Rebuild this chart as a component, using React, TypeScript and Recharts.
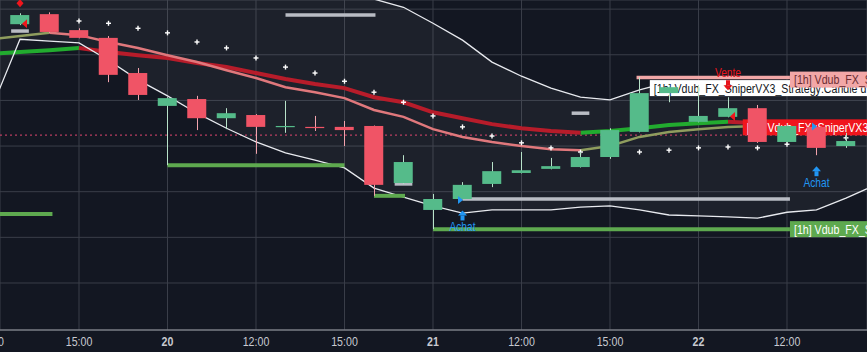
import React from 'react';
import {
  ComposedChart,
  Area,
  Bar,
  Line,
  Scatter,
  XAxis,
  YAxis,
  CartesianGrid,
  ReferenceLine,
  ReferenceDot,
} from 'recharts';

const FONT = '"Liberation Sans", Arial, sans-serif';
const SQUEEZE = 0.85; // the screenshot text is narrower than plain Arial

const BG = '#131722';
const GRID = '#3a3e49';
const UP = '#55bb8a';
const DOWN = '#f05466';
const UP_WICK = '#b8e2c9';
const DOWN_WICK = '#f3a3ad';

// 1h candles, bar 0..28
const OPEN = [1856.7, 1858.9, 1855.4, 1853.7, 1846.0, 1838.8, 1840.3, 1836.1, 1836.8, 1834.3, 1834.2, 1834.2, 1834.4, 1821.9, 1816.0, 1818.4, 1821.7, 1824.1, 1825.0, 1825.4, 1827.6, 1833.1, 1841.6, 1835.3, 1836.4, 1838.3, 1830.9, 1834.2, 1830.0];
const HIGH = [1859.1, 1859.3, 1855.8, 1854.1, 1847.1, 1840.7, 1841.0, 1838.3, 1837.0, 1839.9, 1836.6, 1835.5, 1834.5, 1828.0, 1819.5, 1822.1, 1826.5, 1828.7, 1827.4, 1828.7, 1833.9, 1845.1, 1843.4, 1843.4, 1840.7, 1839.0, 1834.6, 1834.6, 1832.9];
const LOW = [1856.5, 1854.8, 1853.6, 1844.0, 1840.1, 1825.8, 1833.5, 1833.7, 1828.3, 1832.9, 1833.3, 1830.0, 1819.1, 1821.7, 1811.8, 1818.3, 1821.0, 1824.0, 1824.9, 1825.3, 1827.2, 1833.0, 1839.6, 1835.2, 1836.3, 1830.7, 1830.7, 1828.0, 1829.6];
const CLOSE = [1858.7, 1855.0, 1853.7, 1845.6, 1841.2, 1840.5, 1836.1, 1837.2, 1834.2, 1834.4, 1834.1, 1833.5, 1821.5, 1826.5, 1818.4, 1821.5, 1824.5, 1824.7, 1825.6, 1827.6, 1833.5, 1841.6, 1842.9, 1836.6, 1838.3, 1830.9, 1834.4, 1829.6, 1831.1];

// indicators start one bar before the first full candle
const FIRST_BAR = -1;
const BB_UPPER = [1876.4, 1876.0, 1875.6, 1875.1, 1874.7, 1874.0, 1872.9, 1871.6, 1870.3, 1869.0, 1867.5, 1865.9, 1864.2, 1862.2, 1860.4, 1856.9, 1853.2, 1848.4, 1845.3, 1842.7, 1840.7, 1840.1, 1842.3, 1844.0, 1843.8, 1843.6, 1843.6, 1843.4, 1843.4, 1843.1, 1843.1];
const BB_LOWER = [1837.7, 1853.4, 1853.0, 1852.6, 1848.8, 1844.5, 1841.0, 1837.2, 1833.9, 1830.9, 1828.5, 1826.9, 1825.2, 1820.8, 1818.8, 1816.9, 1815.3, 1816.0, 1816.0, 1816.0, 1816.6, 1816.9, 1816.0, 1814.9, 1814.7, 1814.5, 1814.2, 1815.5, 1816.0, 1818.6, 1821.5];
const TREND_MA = [1850.2, 1850.6, 1851.0, 1851.5, 1850.6, 1849.9, 1849.3, 1848.2, 1847.3, 1846.0, 1844.7, 1843.6, 1842.7, 1840.7, 1839.6, 1837.4, 1836.1, 1834.8, 1833.9, 1833.3, 1832.9, 1833.3, 1833.9, 1834.6, 1835.0, 1835.3, 1835.0, 1834.8, 1834.6, 1834.4, 1834.2];
const FAST_MA = [1853.4, 1854.1, 1854.8, 1854.3, 1852.8, 1851.5, 1849.9, 1848.4, 1846.6, 1844.9, 1842.9, 1841.8, 1840.5, 1837.9, 1836.4, 1833.7, 1832.0, 1830.9, 1830.0, 1829.3, 1829.1, 1830.0, 1832.0, 1833.1, 1833.7, 1834.2, 1834.4, 1834.4, 1834.2, 1833.9, 1833.8];

const SAR_FIRST_BAR = 2;
const SAR = [1857.4, 1856.9, 1855.8, 1854.8, 1852.8, 1851.5, 1849.3, 1847.3, 1846.0, 1844.2, 1841.8, 1839.6, 1836.6, 1834.2, 1832.2, 1830.7, 1829.6, 1828.7, 1828.7, 1828.7, 1829.1, 1829.6, 1829.8, 1829.6, 1830.4, 1831.1, 1831.8];

const TICK_BARS = [-1, 2, 5, 8, 11, 14, 17, 20, 23, 26];
const TICK_LABELS = ['12:00', '15:00', '20', '12:00', '15:00', '21', '12:00', '15:00', '22', '12:00'];
const PRICE_TICKS = [1800, 1810, 1820, 1830, 1840, 1850, 1860];
const LAST_PRICE = 1832.4;

const STOP_LEVELS = [
  { from: -0.3, to: 0.3, price: 1855.2 },
  { from: 9, to: 12.05, price: 1858.7 },
  { from: 12.7, to: 13.3, price: 1821.7 },
  { from: 18.7, to: 19.3, price: 1837.2 },
  { from: 15, to: 26.1, price: 1818.4 },
];
const SUPPORT_LEVELS = [
  { from: -1.5, to: 1.1, price: 1815.1 },
  { from: 5, to: 11, price: 1825.8 },
  { from: 12, to: 13.05, price: 1819.1 },
  { from: 14, to: 26.1, price: 1811.8 },
];
const TARGET_LEVELS = [{ from: 20.9, to: 26.1, price: 1845.0 }];

const TAGS = [
  { bar: 21.35, price: 1842.7, shift: 0, text: '[1h] Vdub_FX_SniperVX3_Strategy:Candle d', bg: '#ffffff', color: '#131722' },
  { bar: 26.1, price: 1845.0, shift: 2, text: '[1h] Vdub_FX_SniperVX3_Strategy', bg: '#f2a7a7', color: '#6b2d33' },
  { bar: 24.5, price: 1834.1, shift: 0, text: '[1h] Vdub_FX_SniperVX3_Strategy', bg: '#f0151c', color: '#ffffff' },
  { bar: 26.1, price: 1811.8, shift: 0, text: '[1h] Vdub_FX_SniperVX3_Strategy', bg: '#5ea94f', color: '#ffffff' },
];

const SIGNAL_BARS = [15, 24, 27];
const SIGNAL_SIDES = ['buy', 'sell', 'buy'];
const ENTRIES = [
  { i: 0, p: 1856.8, side: 'sell' },
  { i: 15, p: 1818.2, side: 'buy' },
  { i: 24, p: 1836.5, side: 'sell' },
  { i: 27, p: 1834.3, side: 'buy' },
];
const ALERTS = [{ i: 0, p: 1861.3 }];

function splitByDirection(values: number[]) {
  const n = values.length;
  const rising = (k: number) => values[k + 1] >= values[k];
  const up = values.map((v, k) => ((k > 0 && rising(k - 1)) || (k < n - 1 && rising(k)) ? v : null));
  const down = values.map((v, k) => ((k > 0 && !rising(k - 1)) || (k < n - 1 && !rising(k)) ? v : null));
  return { up, down };
}

const trend = splitByDirection(TREND_MA);
const fast = splitByDirection(FAST_MA);

const rows = BB_UPPER.map((_, k) => {
  const bar = k + FIRST_BAR;
  const has = bar >= 0 && bar < OPEN.length;
  return {
    i: bar,
    band: [BB_LOWER[k], BB_UPPER[k]],
    upper: BB_UPPER[k],
    lower: BB_LOWER[k],
    trendUp: trend.up[k],
    trendDown: trend.down[k],
    fastUp: fast.up[k],
    fastDown: fast.down[k],
    range: has ? [LOW[bar], HIGH[bar]] : null,
    o: has ? OPEN[bar] : null,
    h: has ? HIGH[bar] : null,
    l: has ? LOW[bar] : null,
    c: has ? CLOSE[bar] : null,
  };
});

const sarPoints = SAR.map((p, k) => ({ i: k + SAR_FIRST_BAR, p }));
const signalPoints = SIGNAL_BARS.map((b, k) => ({
  i: b,
  p: SIGNAL_SIDES[k] === 'buy' ? LOW[b] : HIGH[b],
  side: SIGNAL_SIDES[k],
}));

function Candle(props: any) {
  const { x, y, width, height, payload } = props;
  if (!payload || payload.o == null || !isFinite(y)) return <g />;
  const { o, h, l, c } = payload;
  const span = h - l || 1;
  const at = (p: number) => y + ((h - p) / span) * height;
  const rising = c >= o;
  const top = at(Math.max(o, c));
  const bottom = at(Math.min(o, c));
  const mid = Math.round(x + width / 2) + 0.5;
  return (
    <g>
      <line x1={mid} x2={mid} y1={y} y2={y + height} stroke={rising ? UP_WICK : DOWN_WICK} strokeWidth={1} />
      <rect x={x} y={top} width={width} height={Math.max(1.2, bottom - top)} fill={rising ? UP : DOWN} />
    </g>
  );
}

function SqueezedText({ x, y, size, fill, weight, anchor, children }: any) {
  return (
    <text
      transform={`translate(${x},${y}) scale(${SQUEEZE},1)`}
      fontSize={size}
      fontFamily={FONT}
      fontWeight={weight || 400}
      fill={fill}
      textAnchor={anchor || 'start'}
    >
      {children}
    </text>
  );
}

function TimeTick(props: any) {
  const { x, y, payload } = props;
  const label = TICK_LABELS[TICK_BARS.indexOf(payload.value)];
  const isDay = label && label.indexOf(':') < 0;
  return (
    <SqueezedText x={x} y={y + 8} size={12.5} fill="#c8cad1" weight={isDay ? 700 : 400} anchor="middle">
      {label}
    </SqueezedText>
  );
}

function SarCross(props: any) {
  const { cx, cy } = props;
  return (
    <g stroke="#ffffff" strokeWidth={1.4}>
      <line x1={cx - 2.5} x2={cx + 2.5} y1={cy} y2={cy} />
      <line x1={cx} x2={cx} y1={cy - 2.5} y2={cy + 2.5} />
    </g>
  );
}

function SignalMark(props: any) {
  const { cx, cy, payload } = props;
  if (payload.side === 'buy') {
    const tip = cy + 11;
    return (
      <g fill="#2196f3">
        <polygon points={`${cx},${tip} ${cx - 4.5},${tip + 5} ${cx + 4.5},${tip + 5}`} />
        <rect x={cx - 2} y={tip + 5} width={4} height={5} />
        <SqueezedText x={cx} y={cy + 32} size={12} fill="#2196f3" anchor="middle">Achat</SqueezedText>
      </g>
    );
  }
  const tip = cy - 7;
  return (
    <g fill="#e8141b">
      <rect x={cx - 2} y={tip - 10} width={4} height={5} />
      <polygon points={`${cx},${tip} ${cx - 4.5},${tip - 5} ${cx + 4.5},${tip - 5}`} />
      <SqueezedText x={cx} y={cy - 20} size={12} fill="#e8141b" anchor="middle">Vente</SqueezedText>
    </g>
  );
}

function EntryMark(props: any) {
  const { cx, cy, payload } = props;
  if (payload.side === 'buy') {
    return <polygon points={`${cx - 4.5},${cy - 4} ${cx + 0.5},${cy} ${cx - 4.5},${cy + 4}`} fill="#2196f3" />;
  }
  return <polygon points={`${cx + 7},${cy - 4.5} ${cx + 2},${cy} ${cx + 7},${cy + 4.5}`} fill="#f0151c" />;
}

function AlertMark(props: any) {
  const { cx, cy } = props;
  return <polygon points={`${cx},${cy - 4} ${cx + 3.5},${cy} ${cx},${cy + 4} ${cx - 3.5},${cy}`} fill="#f0151c" />;
}

function Tag({ cx, cy, tag }: any) {
  const mid = cy + tag.shift;
  return (
    <g>
      <rect x={cx} y={mid - 8} width={320} height={16} fill={tag.bg} />
      <SqueezedText x={cx + 4} y={mid + 4.5} size={12.5} fill={tag.color}>
        {tag.text}
      </SqueezedText>
    </g>
  );
}

export default function App() {
  return (
    <div style={{ position: 'absolute', left: 0, top: 0, width: 867, height: 352, background: BG }}>
      <ComposedChart width={867} height={352} data={rows} margin={{ top: 0, right: 0, bottom: 0, left: 0 }}>
        <Area
          dataKey="band"
          type="linear"
          stroke="none"
          fill="#ffffff"
          fillOpacity={0.045}
          isAnimationActive={false}
          zIndex={50}
        />
        <CartesianGrid stroke={GRID} strokeWidth={1} />
        <XAxis
          type="number"
          dataKey="i"
          domain={[-0.678, 28.712]}
          allowDataOverflow
          ticks={TICK_BARS}
          interval={0}
          tick={<TimeTick />}
          tickLine={false}
          axisLine={{ stroke: '#9a9da5' }}
          height={22}
        />
        <YAxis hide type="number" domain={[1789.7, 1862.0]} allowDataOverflow ticks={PRICE_TICKS} />

        <ReferenceLine y={LAST_PRICE} stroke="#e2476f" strokeDasharray="2 3" ifOverflow="visible" zIndex={150} />

        <Line dataKey="trendUp" stroke="#22ab2f" strokeWidth={4} dot={false} isAnimationActive={false} zIndex={200} />
        <Line dataKey="trendDown" stroke="#b71c2a" strokeWidth={4} dot={false} isAnimationActive={false} zIndex={200} />
        <Line dataKey="fastUp" stroke="#8f9d5e" strokeWidth={2.5} dot={false} isAnimationActive={false} zIndex={210} />
        <Line dataKey="fastDown" stroke="#e0787c" strokeWidth={2.5} dot={false} isAnimationActive={false} zIndex={210} />
        <Line dataKey="upper" stroke="#e8eaef" strokeWidth={1.3} dot={false} isAnimationActive={false} zIndex={220} />
        <Line dataKey="lower" stroke="#e8eaef" strokeWidth={1.3} dot={false} isAnimationActive={false} zIndex={220} />

        {STOP_LEVELS.map((lv, k) => (
          <ReferenceLine
            key={'s' + k}
            segment={[{ x: lv.from, y: lv.price }, { x: lv.to, y: lv.price }]}
            stroke="#b9bcc4"
            strokeWidth={3.5}
            ifOverflow="visible"
            zIndex={240}
          />
        ))}
        {SUPPORT_LEVELS.map((lv, k) => (
          <ReferenceLine
            key={'g' + k}
            segment={[{ x: lv.from, y: lv.price }, { x: lv.to, y: lv.price }]}
            stroke="#5ea94f"
            strokeWidth={4}
            ifOverflow="visible"
            zIndex={240}
          />
        ))}
        {TARGET_LEVELS.map((lv, k) => (
          <ReferenceLine
            key={'t' + k}
            segment={[{ x: lv.from, y: lv.price }, { x: lv.to, y: lv.price }]}
            stroke="#f2a7a7"
            strokeWidth={3.5}
            ifOverflow="visible"
            zIndex={240}
          />
        ))}

        {TAGS.map((tag, k) => (
          <ReferenceDot
            key={'tag' + k}
            x={tag.bar}
            y={tag.price}
            ifOverflow="visible"
            zIndex={260}
            shape={(p: any) => <Tag cx={p.cx} cy={p.cy} tag={tag} />}
          />
        ))}

        <Scatter data={sarPoints} dataKey="p" shape={<SarCross />} isAnimationActive={false} zIndex={270} />

        <Bar dataKey="range" barSize={19} shape={<Candle />} isAnimationActive={false} zIndex={300} />

        <Scatter data={ENTRIES} dataKey="p" shape={<EntryMark />} isAnimationActive={false} zIndex={700} />
        <Scatter data={ALERTS} dataKey="p" shape={<AlertMark />} isAnimationActive={false} zIndex={700} />
        <Scatter data={signalPoints} dataKey="p" shape={<SignalMark />} isAnimationActive={false} zIndex={700} />
      </ComposedChart>
    </div>
  );
}
